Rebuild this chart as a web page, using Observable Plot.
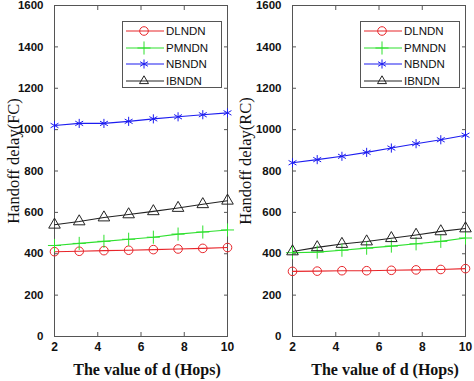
<!DOCTYPE html>
<html>
<head>
<meta charset="utf-8">
<script src="https://cdn.jsdelivr.net/npm/d3@7"></script>
<script src="https://cdn.jsdelivr.net/npm/@observablehq/plot@0.6"></script>
<style>
  body { margin: 0; background: #fff; }
  #wrap { display: flex; width: 474px; height: 381px; }
  .panel { position: relative; width: 237px; height: 381px; }
  .legend { position: absolute; background: #fff; border: 1px solid #555; box-sizing: border-box;
            font: 11px "Liberation Sans", Arial, sans-serif; color: #111; padding-top: 1px; }
  .legend .row { display: flex; align-items: center; height: 16.5px; }
  .legend svg { display: block; }
</style>
</head>
<body>
<div id="wrap"></div>
<script>
// ---- data ----
const hops = [2, 3.143, 4.286, 5.429, 6.571, 7.714, 8.857, 10];
const seriesNames = ["DLNDN", "PMNDN", "NBNDN", "IBNDN"];

const fcDLNDN = [410, 412, 415, 417, 420, 423, 426, 430];
const fcPMNDN = [440, 450, 460, 470, 480, 495, 505, 515];
const fcNBNDN = [1020, 1030, 1030, 1040, 1052, 1062, 1072, 1081];
const fcIBNDN = [540, 556, 575, 590, 605, 621, 639, 656];

const rcDLNDN = [315, 316, 318, 318, 320, 322, 324, 328];
const rcPMNDN = [405, 408, 417, 427, 437, 448, 460, 476];
const rcNBNDN = [840, 855, 871, 890, 911, 932, 951, 973];
const rcIBNDN = [411, 431, 447, 459, 475, 491, 508, 522];

const xTicks = [2, 4, 6, 8, 10];
const yTicks = [0, 200, 400, 600, 800, 1000, 1200, 1400, 1600];
const xLabel = "The value of d (Hops)";
const yLabels = ["Handoff delay(FC)", "Handoff delay(RC)"];

// ---- styles ----
const colors = {DLNDN: "#e8262b", PMNDN: "#2ee02e", NBNDN: "#1c1cf0", IBNDN: "#222222"};
const symbols = {DLNDN: "circle", PMNDN: "plus", NBNDN: "asterisk", IBNDN: "triangle"};

function rows(vals) {
  const out = [];
  seriesNames.forEach((s, i) => vals[i].forEach((v, j) => out.push({series: s, hops: hops[j], delay: v})));
  return out;
}

const panels = [
  {data: rows([fcDLNDN, fcPMNDN, fcNBNDN, fcIBNDN]), yLabel: yLabels[0], marginLeft: 54, marginRight: 10, ylabDx: -41},
  {data: rows([rcDLNDN, rcPMNDN, rcNBNDN, rcIBNDN]), yLabel: yLabels[1], marginLeft: 55, marginRight: 9, ylabDx: -47}
];

const wrap = document.getElementById("wrap");

panels.forEach(p => {
  const div = document.createElement("div");
  div.className = "panel";
  const chart = Plot.plot({
    width: 237, height: 381,
    marginLeft: p.marginLeft, marginRight: p.marginRight, marginTop: 5, marginBottom: 45,
    style: {background: "#fff", fontFamily: "'Liberation Sans', Arial, sans-serif", overflow: "visible"},
    x: {domain: [2, 10]},
    y: {domain: [0, 1600]},
    color: {domain: seriesNames, range: seriesNames.map(s => colors[s])},
    symbol: {domain: seriesNames, range: seriesNames.map(s => symbols[s])},
    marks: [
      Plot.frame({stroke: "#555", strokeWidth: 1}),
      Plot.axisX({ticks: xTicks, tickSize: -4, tickPadding: 10, tickFormat: d => String(d), stroke: "#555", fontSize: 12, fontWeight: "bold", fill: "#111", label: null}),
      Plot.axisX({anchor: "top", ticks: xTicks, tickSize: -4, tickFormat: () => "", stroke: "#555", label: null}),
      Plot.axisY({ticks: yTicks, tickSize: -4, tickPadding: 15, tickFormat: d => String(d), stroke: "#555", fontSize: 11.5, fontWeight: "bold", fill: "#111", label: null}),
      Plot.axisY({anchor: "right", ticks: yTicks, tickSize: -4, tickFormat: () => "", stroke: "#555", label: null}),
      Plot.line(p.data, {x: "hops", y: "delay", z: "series", stroke: "series", strokeWidth: 1.1}),
      Plot.dot(p.data, {x: "hops", y: "delay", stroke: "series", symbol: "series", r: 4.3, strokeWidth: 1, fill: "none"}),
      Plot.text([xLabel], {frameAnchor: "bottom", dy: 33, fontFamily: "'Liberation Serif', 'Times New Roman', serif",
        fontSize: 16, fontWeight: "bold", fill: "#111", dx: 6, lineAnchor: "middle"}),
      Plot.text([p.yLabel], {frameAnchor: "left", rotate: -90, dx: p.ylabDx, dy: -10, textAnchor: "middle",
        fontFamily: "'Liberation Serif', 'Times New Roman', serif", fontSize: 16.5, fill: "#111",
        lineAnchor: "middle"})
    ]
  });
  div.appendChild(chart);

  // legend inside plot area
  const leg = document.createElement("div");
  leg.className = "legend";
  leg.style.left = (p.marginLeft + 68) + "px";
  leg.style.top = "21px";
  leg.style.width = "100px";
  leg.style.height = "67px";
  seriesNames.forEach(s => {
    const row = document.createElement("div");
    row.className = "row";
    const svg = d3.create("svg").attr("width", 42).attr("height", 14);
    svg.append("line").attr("x1", 3).attr("x2", 41).attr("y1", 7).attr("y2", 7)
      .attr("stroke", colors[s]).attr("stroke-width", 1.1);
    const symMap = {circle: d3.symbolCircle, plus: d3.symbolPlus, asterisk: d3.symbolAsterisk, triangle: d3.symbolTriangle2};
    svg.append("path").attr("transform", "translate(21,7)")
      .attr("d", d3.symbol(symMap[symbols[s]], 58)())
      .attr("fill", s === "PMNDN" ? colors[s] : "none").attr("stroke", colors[s]).attr("stroke-width", 1);
    row.appendChild(svg.node());
    const t = document.createElement("span");
    t.textContent = s;
    t.style.marginLeft = "1px";
    t.style.fontSize = "11.5px";
    row.appendChild(t);
    leg.appendChild(row);
  });
  div.appendChild(leg);
  wrap.appendChild(div);
});
</script>
</body>
</html>
